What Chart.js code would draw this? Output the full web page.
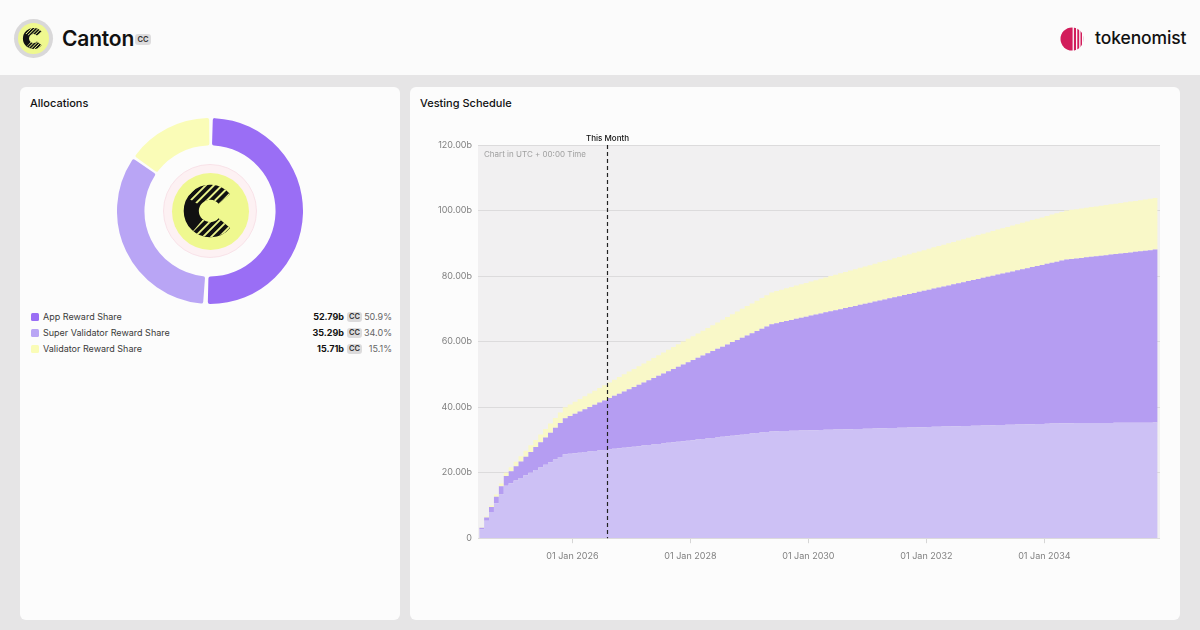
<!DOCTYPE html>
<html>
<head>
<meta charset="utf-8">
<script src="https://cdn.jsdelivr.net/npm/chart.js@4.4.1/dist/chart.umd.min.js"></script>
<style>
  html, body { margin: 0; padding: 0; }
  body { width: 1200px; height: 630px; background: #e6e5e6; font-family: Inter, "Noto Sans", sans-serif; position: relative; overflow: hidden; }
  .header { position: absolute; left: 0; top: 0; width: 1200px; height: 75px; background: #fbfbfb; }
  .card { position: absolute; background: #fcfcfc; border-radius: 6px; }
  .abs { position: absolute; }
  .title { position: absolute; font-size: 11px; font-weight: 500; color: #111; }
  .badge { position: absolute; background: #dddcdd; color: #333; border-radius: 3px; font-size: 7.5px; font-weight: 600; text-align: center; }
  .legrow { position: absolute; left: 31px; width: 361px; height: 14px; font-size: 9px; color: #3a3a3a; }
  .legrow .sw { position: absolute; left: 0; top: 3px; width: 8px; height: 8px; border-radius: 1.5px; }
  .legrow .lbl { position: absolute; left: 12px; top: 0; line-height: 14px; }
  .legrow .val { position: absolute; right: 48px; top: 0; line-height: 14px; font-weight: 700; color: #111; }
  .legrow .cc { position: absolute; right: 30px; top: 2px; width: 15px; height: 10px; line-height: 10px; background: #dcdbdc; border-radius: 3px; font-size: 7.5px; font-weight: 600; text-align: center; color: #333; }
  .legrow .pct { position: absolute; right: 0; top: 0; line-height: 14px; color: #666; }
</style>
</head>
<body>
<svg width="0" height="0" style="position:absolute">
  <defs>
    <pattern id="stripes" patternUnits="userSpaceOnUse" width="8" height="8" patternTransform="rotate(45)">
      <rect x="0" y="0" width="2.6" height="8" fill="#eef78c"></rect>
    </pattern>
    <g id="clogo">
      <path d="M69.9 33.3 A26 26 0 1 0 69.9 66.7" fill="none" stroke="#111" stroke-width="21"></path>
      <path d="M69.9 33.3 A26 26 0 0 0 27.5 37" fill="none" stroke="url(#stripes)" stroke-width="21"></path>
      <path d="M33.3 69.9 A26 26 0 0 0 69.9 66.7" fill="none" stroke="url(#stripes)" stroke-width="21"></path>
    </g>
  </defs>
</svg>

<div class="header"></div>
<!-- header token logo -->
<div class="abs" style="left:14px;top:19px;width:39px;height:39px;border-radius:50%;background:#d9d8d9;"></div>
<div class="abs" style="left:18px;top:23px;width:31px;height:31px;border-radius:50%;background:#eff88f;"></div>
<svg class="abs" style="left:19px;top:24px" width="29" height="29" viewBox="0 0 100 100"><use href="#clogo"></use></svg>
<div class="abs" style="left:62px;top:26px;font-size:21px;font-weight:600;color:#111;letter-spacing:-0.2px;">Canton</div>
<div class="badge" style="left:135px;top:34px;width:16px;height:11px;line-height:11px;">CC</div>

<!-- tokenomist logo -->
<svg class="abs" style="left:1060px;top:27px" width="26" height="24" viewBox="0 0 26 24">
  <circle cx="12" cy="12" r="11.5" fill="#d21c5b"></circle>
  <rect x="12.6" y="0" width="1.3" height="24" fill="#fbfbfb"></rect>
  <rect x="16" y="0" width="1.3" height="24" fill="#fbfbfb"></rect>
  <rect x="19.2" y="0" width="1.3" height="24" fill="#fbfbfb"></rect>
  <rect x="22" y="0" width="1.6" height="24" fill="#fbfbfb"></rect>
</svg>
<div class="abs" style="left:1095px;top:27px;font-size:17.5px;font-weight:500;color:#111;letter-spacing:-0.1px;">tokenomist</div>

<!-- cards -->
<div class="card" style="left:20px;top:87px;width:380px;height:533px;"></div>
<div class="card" style="left:410px;top:87px;width:770px;height:533px;"></div>
<div class="title" style="left:30px;top:96px;">Allocations</div>
<div class="title" style="left:420px;top:96px;">Vesting Schedule</div>

<!-- donut -->
<canvas id="donut" class="abs" style="left:117px;top:118px;" width="186" height="186"></canvas>
<div class="abs" style="left:163px;top:164px;width:92px;height:92px;border-radius:50%;background:#fdf1f3;border:1.5px solid #f8e2e8;"></div>
<div class="abs" style="left:172px;top:173px;width:77px;height:77px;border-radius:50%;background:#eff88f;"></div>
<svg class="abs" style="left:174px;top:175px" width="72" height="72" viewBox="0 0 100 100"><use href="#clogo"></use></svg>

<div id="legend"></div>

<!-- vesting chart -->
<canvas id="vest" class="abs" style="left:420px;top:120px;" width="740" height="450"></canvas>

<script>
// ---- Allocation data ----
const allocLabels = ['App Reward Share', 'Super Validator Reward Share', 'Validator Reward Share'];
const allocValues = [52.79, 35.29, 15.71];
const allocPct = ['50.9%', '34.0%', '15.1%'];
const allocColors = ['#9a6ef5', '#b9a5f5', '#fafcb7'];

// ---- Vesting schedule (monthly cumulative, billions) ----
const startYear = 2024.42;           // first monthly step
const tickYears = [2026, 2028, 2030, 2032, 2034];
const yTicks = [0, 20, 40, 60, 80, 100, 120];
const thisMonth = 2026.58;

const superValidator = [
  2.67, 5.33, 8.00, 10.67, 13.33, 16.00,
  16.80, 17.60, 18.40, 19.20, 20.00, 20.80, 21.60, 22.40, 23.20, 24.00, 24.80, 25.60,
  25.77, 25.93, 26.10, 26.27, 26.43, 26.60, 26.77, 26.93, 27.10, 27.27, 27.43, 27.60,
  27.77, 27.93, 28.10, 28.27, 28.43, 28.60, 28.77, 28.93, 29.10, 29.27, 29.43, 29.60,
  29.77, 29.93, 30.10, 30.27, 30.43, 30.60, 30.77, 30.93, 31.10, 31.27, 31.43, 31.60,
  31.77, 31.93, 32.10, 32.27, 32.43, 32.60,
  32.64, 32.68, 32.73, 32.77, 32.81, 32.85, 32.89, 32.93, 32.98, 33.02, 33.06, 33.10,
  33.14, 33.18, 33.23, 33.27, 33.31, 33.35, 33.39, 33.43, 33.48, 33.52, 33.56, 33.60,
  33.64, 33.68, 33.73, 33.77, 33.81, 33.85, 33.89, 33.93, 33.98, 34.02, 34.06, 34.10,
  34.14, 34.18, 34.23, 34.27, 34.31, 34.35, 34.39, 34.43, 34.48, 34.52, 34.56, 34.60,
  34.64, 34.68, 34.73, 34.77, 34.81, 34.85, 34.89, 34.93, 34.98, 35.02, 35.06, 35.10,
  35.11, 35.12, 35.13, 35.14, 35.15, 35.16, 35.17, 35.18, 35.19, 35.20, 35.21, 35.22,
  35.23, 35.24, 35.25, 35.26, 35.27, 35.29, 35.29
];
const appReward = [
  0.50, 1.00, 1.50, 2.00, 2.50, 3.00,
  3.67, 4.33, 5.00, 5.67, 6.33, 7.00, 7.67, 8.33, 9.00, 9.67, 10.33, 11.00,
  11.52, 12.03, 12.55, 13.07, 13.58, 14.10, 14.62, 15.13, 15.65, 16.17, 16.68, 17.20,
  17.72, 18.23, 18.75, 19.27, 19.78, 20.30, 20.82, 21.33, 21.85, 22.37, 22.88, 23.40,
  23.92, 24.43, 24.95, 25.47, 25.98, 26.50, 27.02, 27.53, 28.05, 28.57, 29.08, 29.60,
  30.12, 30.63, 31.15, 31.67, 32.18, 32.70,
  32.99, 33.28, 33.56, 33.85, 34.14, 34.43, 34.71, 35.00, 35.29, 35.58, 35.86, 36.15,
  36.44, 36.73, 37.01, 37.30, 37.59, 37.88, 38.16, 38.45, 38.74, 39.03, 39.31, 39.60,
  39.89, 40.18, 40.46, 40.75, 41.04, 41.33, 41.61, 41.90, 42.19, 42.48, 42.76, 43.05,
  43.34, 43.63, 43.91, 44.20, 44.49, 44.78, 45.06, 45.35, 45.64, 45.93, 46.21, 46.50,
  46.79, 47.08, 47.36, 47.65, 47.94, 48.23, 48.51, 48.80, 49.09, 49.38, 49.66, 49.95,
  50.11, 50.27, 50.42, 50.58, 50.74, 50.90, 51.06, 51.21, 51.37, 51.53, 51.69, 51.84,
  52.00, 52.16, 52.32, 52.48, 52.63, 52.79, 52.79
];
const validatorReward = [
  0.17, 0.33, 0.50, 0.67, 0.83, 1.00,
  1.20, 1.40, 1.60, 1.80, 2.00, 2.20, 2.40, 2.60, 2.80, 3.00, 3.20, 3.40,
  3.55, 3.70, 3.85, 4.00, 4.15, 4.30, 4.45, 4.60, 4.75, 4.90, 5.05, 5.20,
  5.35, 5.50, 5.65, 5.80, 5.95, 6.10, 6.25, 6.40, 6.55, 6.70, 6.85, 7.00,
  7.15, 7.30, 7.45, 7.60, 7.75, 7.90, 8.05, 8.20, 8.35, 8.50, 8.65, 8.80,
  8.95, 9.10, 9.25, 9.40, 9.55, 9.70,
  9.79, 9.88, 9.96, 10.05, 10.14, 10.23, 10.31, 10.40, 10.49, 10.58, 10.66, 10.75,
  10.84, 10.93, 11.01, 11.10, 11.19, 11.28, 11.36, 11.45, 11.54, 11.63, 11.71, 11.80,
  11.89, 11.98, 12.06, 12.15, 12.24, 12.33, 12.41, 12.50, 12.59, 12.68, 12.76, 12.85,
  12.94, 13.03, 13.11, 13.20, 13.29, 13.38, 13.46, 13.55, 13.64, 13.73, 13.81, 13.90,
  13.99, 14.08, 14.16, 14.25, 14.34, 14.43, 14.51, 14.60, 14.69, 14.78, 14.86, 14.95,
  14.99, 15.03, 15.08, 15.12, 15.16, 15.20, 15.25, 15.29, 15.33, 15.37, 15.41, 15.46,
  15.50, 15.54, 15.58, 15.63, 15.67, 15.71, 15.71
];
const areaColors = { sv: '#cdc1f5', app: '#b59df2', val: '#f9f8c8' };

// ---- legend (HTML) ----
const legendEl = document.getElementById('legend');
allocLabels.forEach((lab, i) => {
  const row = document.createElement('div');
  row.className = 'legrow';
  row.style.top = (310 + i * 16) + 'px';
  row.innerHTML = '<div class="sw" style="background:' + allocColors[i] + '"></div>' +
    '<div class="lbl">' + lab + '</div>' +
    '<div class="val">' + allocValues[i].toFixed(2) + 'b</div>' +
    '<div class="cc">CC</div>' +
    '<div class="pct">' + allocPct[i] + '</div>';
  legendEl.appendChild(row);
});

// ---- donut ----
new Chart(document.getElementById('donut'), {
  type: 'doughnut',
  data: { labels: allocLabels, datasets: [{ data: allocValues, backgroundColor: allocColors, borderWidth: 0, spacing: 3, borderRadius: 2 }] },
  options: {
    responsive: false, animation: false, cutout: '70%',
    plugins: { legend: { display: false }, tooltip: { enabled: false } }
  }
});

// ---- vesting chart ----
const toPoints = arr => arr.map((v, i) => ({ x: startYear + i / 12, y: v }));

const plotBg = {
  id: 'plotBg',
  beforeDraw(chart) {
    const { ctx, chartArea: a } = chart;
    ctx.save();
    ctx.fillStyle = '#f1f0f1';
    ctx.fillRect(a.left, a.top, a.right - a.left, a.bottom - a.top);
    ctx.restore();
  }
};
const marker = {
  id: 'marker',
  afterDatasetsDraw(chart) {
    const { ctx, chartArea: a, scales } = chart;
    const x = Math.round(scales.x.getPixelForValue(thisMonth)) + 0.5;
    ctx.save();
    ctx.strokeStyle = '#222';
    ctx.lineWidth = 1.2;
    ctx.setLineDash([4, 3]);
    ctx.beginPath(); ctx.moveTo(x, a.top); ctx.lineTo(x, a.bottom); ctx.stroke();
    ctx.setLineDash([]);
    ctx.fillStyle = '#111';
    ctx.font = '500 8px Inter, sans-serif';
    ctx.textAlign = 'center';
    ctx.textBaseline = 'bottom';
    ctx.fillText('This Month', x, a.top - 2);
    ctx.fillStyle = '#a0a0a0';
    ctx.textAlign = 'left';
    ctx.textBaseline = 'top';
    ctx.font = '8px Inter, sans-serif';
    ctx.fillText('Chart in UTC + 00:00 Time', a.left + 6, a.top + 6);
    ctx.restore();
  }
};

new Chart(document.getElementById('vest'), {
  type: 'line',
  data: {
    datasets: [
      { label: 'Super Validator Reward Share', data: toPoints(superValidator), backgroundColor: areaColors.sv, fill: 'origin' },
      { label: 'App Reward Share', data: toPoints(appReward), backgroundColor: areaColors.app, fill: '-1' },
      { label: 'Validator Reward Share', data: toPoints(validatorReward), backgroundColor: areaColors.val, fill: '-1' }
    ]
  },
  options: {
    responsive: false, animation: false,
    layout: { padding: { left: 12, top: 25, right: 0, bottom: 0 } },
    elements: { line: { borderWidth: 0, stepped: true, tension: 0 }, point: { radius: 0 } },
    plugins: { legend: { display: false }, tooltip: { enabled: false } },
    scales: {
      x: {
        type: 'linear', min: 2024.40, max: 2035.96,
        afterBuildTicks: axis => { axis.ticks = tickYears.map(v => ({ value: v })); },
        ticks: { callback: v => '01 Jan ' + v, color: '#808080', font: { size: 9, family: 'Inter' }, maxRotation: 0, padding: 8 },
        grid: { drawOnChartArea: false, drawTicks: true, tickLength: 5, color: '#d6d6d6' },
        border: { display: false }
      },
      y: {
        stacked: true, min: 0, max: 120,
        afterBuildTicks: axis => { axis.ticks = yTicks.map(v => ({ value: v })); },
        ticks: { callback: v => v === 0 ? '0' : v.toFixed(2) + 'b', color: '#808080', font: { size: 9, family: 'Inter' }, padding: 6 },
        grid: { color: '#dcdbdc', drawTicks: false },
        border: { display: false }
      }
    }
  },
  plugins: [plotBg, marker]
});
</script>
</body>
</html>
